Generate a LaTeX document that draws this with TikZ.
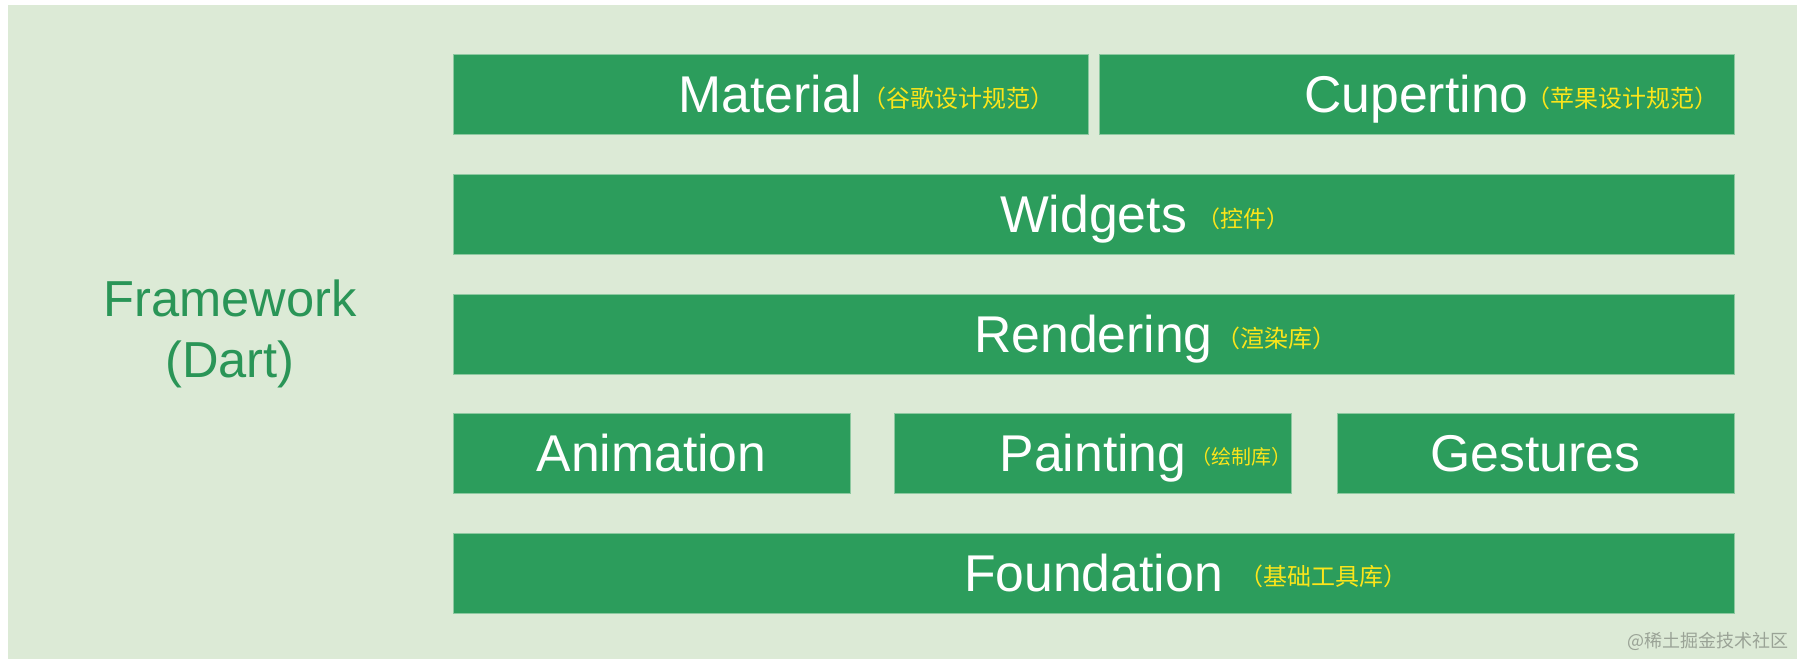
\documentclass[tikz,border=0pt]{standalone}
\usepackage{fontspec}
\setmainfont{Liberation Sans}
\newfontfamily\cjk{Noto Sans CJK SC}
\usetikzlibrary{positioning}
\definecolor{bggreen}{HTML}{DCEAD6}
\definecolor{boxgreen}{HTML}{2C9D5C}
\definecolor{edgegreen}{HTML}{8CC9A0}
\definecolor{notegold}{HTML}{FCE51A}
\definecolor{markgray}{HTML}{9AA396}

\begin{document}
\begin{tikzpicture}[
       x = 0.5pt, y = -0.5pt,
layer/.style = {fill=boxgreen, draw=edgegreen, line width=0.4pt,
                minimum height=40pt, inner sep=0pt, text=white,
                font=\fontsize{25.85}{30}\selectfont,
                text height=18.5pt, text depth=0pt},
 full/.style = {layer, minimum width=640.5pt},
 half/.style = {layer, minimum width=317.5pt},
third/.style = {layer, minimum width=198.5pt},
 note/.style = {text=notegold, inner sep=0pt, font=\cjk\fontsize{12}{14}\selectfont}
                        ]
% background
    \useasboundingbox (0,0) rectangle (1806,668);
    \fill[white] (0,0) rectangle (1806,668);
    \fill[bggreen] (8,5) rectangle (1797,659);
% side label
    \node[align=center, text=boxgreen!95!black, inner sep=0pt,
          font=\fontsize{25.3}{30.5}\selectfont] (fw) at (230,334) {Framework\\(Dart)};
% layers
    \node[half]  (material)   at (770.5,94)   {Material};
    \node[half]  (cupertino)  at (1416.5,94)  {Cupertino};
    \node[full]  (widgets)    at (1093.5,214) {Widgets};
    \node[full]  (rendering)  at (1093.5,334) {Rendering};
    \node[third] (animation)  at (651.5,453)  {Animation};
    \node[third] (painting)   at (1093,453)   {Painting};
    \node[third] (gestures)   at (1535.5,453) {Gestures};
    \node[full]  (foundation) at (1093.5,573) {Foundation};
% notes
    \node[note] (material-n)   at (958,98)   {（谷歌设计规范）};
    \node[note] (cupertino-n)  at (1622,98)  {（苹果设计规范）};
    \node[note, font=\cjk\fontsize{11.5}{14}\selectfont] (widgets-n) at (1243,219) {（控件）};
    \node[note] (rendering-n)  at (1276,338) {（渲染库）};
    \node[note, font=\cjk\fontsize{10}{12}\selectfont] (painting-n) at (1241,457) {（绘制库）};
    \node[note] (foundation-n) at (1323,576) {（基础工具库）};
% watermark
    \node[anchor=east, inner sep=0pt, text=markgray,
          font=\cjk\fontsize{9}{11}\selectfont] (mark) at (1789,641) {@稀土掘金技术社区};
\end{tikzpicture}
\end{document}
